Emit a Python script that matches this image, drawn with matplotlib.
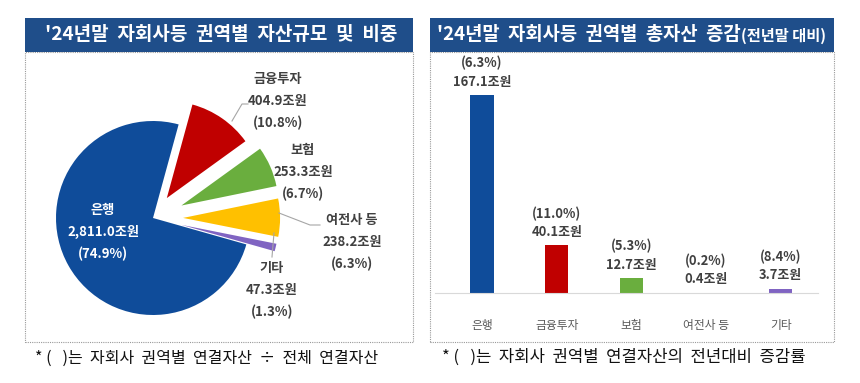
import matplotlib
matplotlib.use('Agg')
import matplotlib.pyplot as plt
from matplotlib.patches import Rectangle

plt.rcParams['font.family'] = ['Noto Sans CJK KR', 'DejaVu Sans']

# left: asset size and share by sector
pie_labels = ['은행', '금융투자', '보험', '여전사 등', '기타']
pie_values = [2811.0, 404.9, 253.3, 238.2, 47.3]
pie_shares = ['(74.9%)', '(10.8%)', '(6.7%)', '(6.3%)', '(1.3%)']
pie_colors = ['#0F4C9A', '#C00000', '#6AAE3E', '#FFC000', '#8064C2']

# right: change in total assets vs previous year end
bar_labels = ['은행', '금융투자', '보험', '여전사 등', '기타']
bar_values = [167.1, 40.1, 12.7, 0.4, 3.7]
bar_rates = ['(6.3%)', '(11.0%)', '(5.3%)', '(0.2%)', '(8.4%)']
bar_colors = ['#0F4C9A', '#C00000', '#6AAE3E', '#FFC000', '#8064C2']

W, H = 860, 383
fig = plt.figure(figsize=(W / 100, H / 100), dpi=100)


def px_axes(x0, y0, x1, y1):
    # pixel box (top-left origin) -> figure axes
    return fig.add_axes([x0 / W, 1 - y1 / H, (x1 - x0) / W, (y1 - y0) / H])


navy = '#1F4E8A'
txt = '#404040'

# panel frames and banners
for (x0, x1) in [(25, 413), (430, 834)]:
    fig.patches.append(Rectangle((x0 / W, 1 - 342 / H), (x1 - x0) / W, (342 - 52) / H,
                                 transform=fig.transFigure, fill=False,
                                 edgecolor='#9A9A9A', lw=0.8, ls=(0, (1, 1))))
    fig.patches.append(Rectangle((x0 / W, 1 - 52 / H), (x1 - x0) / W, 34 / H,
                                 transform=fig.transFigure, facecolor=navy,
                                 edgecolor='none'))

fig.text(221 / W, 1 - 35 / H, "'24년말  자회사등  권역별  자산규모  및  비중",
         color='white', fontsize=13.7, fontweight='bold', ha='center', va='center')
fig.text(437 / W, 1 - 35 / H, "'24년말  자회사등  권역별  총자산  증감",
         color='white', fontsize=13.5, fontweight='bold', ha='left', va='center')
fig.text(741 / W, 1 - 36 / H, "(전년말 대비)",
         color='white', fontsize=11, fontweight='bold', ha='left', va='center')

fig.text(35 / W, 1 - 358 / H, '* (   )는  자회사  권역별  연결자산  ÷  전체  연결자산',
         color='#111111', fontsize=11.5, ha='left', va='center')
fig.text(442 / W, 1 - 357 / H, '* (   )는  자회사  권역별  연결자산의  전년대비  증감률',
         color='#111111', fontsize=12, ha='left', va='center')

# ---- pie ----
cx, cy, R = 153, 218, 97
axp = px_axes(25, 52, 413, 342)
axp.pie(pie_values, colors=pie_colors, startangle=-15.8, counterclock=False,
        explode=[0, 0.25, 0.32, 0.31, 0.3], radius=1,
        wedgeprops=dict(linewidth=0))
axp.set_aspect('auto')
axp.set_xlim(-(cx - 25) / R, (413 - cx) / R)
axp.set_ylim(-(342 - cy) / R, (cy - 52) / R)
axp.axis('off')


def d(px, py):
    return ((px - cx) / R, (cy - py) / R)


label_pos = [d(103, 232), d(278, 101), d(303, 172), d(352, 242), d(272, 290)]
for i, (x, y) in enumerate(label_pos):
    c = 'white' if i == 0 else txt
    lines = [pie_labels[i], f'{pie_values[i]:,.1f}조원', pie_shares[i]]
    for k, s in enumerate(lines):
        axp.annotate(s, (x, y), xytext=(0, (1 - k) * 15.5), textcoords='offset points',
                     ha='center', va='center', fontsize=9.5, fontweight='bold', color=c)

leaders = [[(248, 104), (242, 104), (232, 121)],
           [(279, 213), (310, 225), (320, 225)],
           [(274, 233), (272, 257)]]
for pts in leaders:
    xs, ys = zip(*[d(*p) for p in pts])
    axp.plot(xs, ys, color='#A6A6A6', lw=0.8)

# ---- bars ----
base = 293
scale = 1.185
axb = px_axes(435, 60, 818, base)
x = list(range(len(bar_values)))
axb.bar(x, bar_values, width=0.31, color=bar_colors)
axb.set_xlim(-0.63, 4.5)
axb.set_ylim(0, (base - 60) / scale)
for s in ['top', 'right', 'left']:
    axb.spines[s].set_visible(False)
axb.spines['bottom'].set_color('#D9D9D9')
axb.set_yticks([])
axb.set_xticks(x)
axb.set_xticklabels(bar_labels, color='#595959', fontsize=8.5)
axb.tick_params(axis='x', length=0, pad=19)
for i, v in enumerate(bar_values):
    axb.annotate(f'{v:.1f}조원', (i, v), xytext=(0, 9.5), textcoords='offset points',
                 ha='center', va='center', fontsize=9.3, fontweight='bold', color=txt)
    axb.annotate(bar_rates[i], (i, v), xytext=(0, 23), textcoords='offset points',
                 ha='center', va='center', fontsize=9.3, fontweight='bold', color=txt)

fig.savefig('out.png', dpi=100)
